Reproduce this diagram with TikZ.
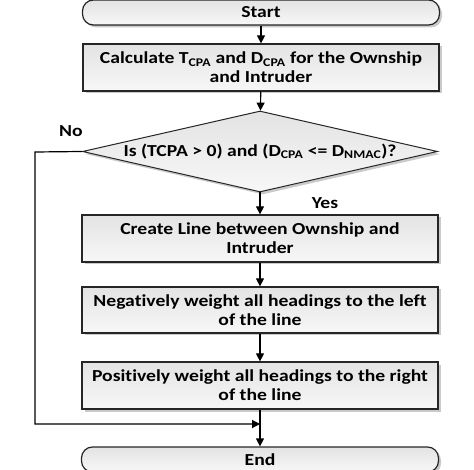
\documentclass[tikz,border=0pt]{standalone}
\usepackage{fontspec}
\setmainfont{Carlito}[FakeStretch=1.17, Ligatures=NoCommon, RawFeature={-liga;-clig;-dlig}]
\usetikzlibrary{arrows.meta,shapes.geometric,shadows}
\newcommand\lsub[1]{\textsubscript{#1}}
\begin{document}
\begin{tikzpicture}[x=1pt,y=-1pt,
  base/.style={draw=black!85, line width=1.2pt, top color=gray!22, bottom color=gray!6,
    font=\bfseries\fontsize{16.8}{19}\selectfont, align=center, inner sep=0pt,
    drop shadow={shadow xshift=2.5pt, shadow yshift=-2.5pt, fill=gray!70, opacity=0.6}},
  procbox/.style={base, rectangle, minimum width=356pt},
  termbox/.style={base, rectangle, rounded corners=11pt, minimum width=357pt, minimum height=25pt},
  decbox/.style={base, diamond, aspect=4.38, minimum width=355pt, minimum height=81pt, line width=1pt},
  lbl/.style={font=\bfseries\fontsize{16.8}{19}\selectfont, inner sep=0pt},
  flow/.style={line width=1.2pt, black, -{Triangle[width=8pt,length=8pt]}},
  plain/.style={line width=1.2pt, black}]
\useasboundingbox (0,0) rectangle (474,470);
\node[termbox] (start) at (261,12.5) {Start};
\node[procbox, minimum height=47pt] (calc) at (261,67.5) {Calculate T\lsub{CPA} and D\lsub{CPA} for the Ownship\\and Intruder};
\node[decbox] (dec) at (260,151.5) {Is (TCPA {>} 0) and (D\lsub{CPA} {<}= D\lsub{NMAC})?};
\node[procbox, minimum height=47pt] (create) at (260,238.5) {Create Line between Ownship and\\Intruder};
\node[procbox, minimum height=46pt] (neg) at (260,310) {Negatively weight all headings to the left\\of the line};
\node[procbox, minimum height=47pt] (pos) at (260,385.5) {Positively weight all headings to the right\\of the line};
\node[termbox] (end) at (260,459.5) {End};
\node[lbl] (no) at (71,131) {No};
\node[lbl] (yes) at (325,203) {Yes};
\coordinate (join) at (260,424);
\coordinate (corner) at (35,152);
\draw[flow] (start) -- (calc);
\draw[flow] (calc) -- (dec);
\draw[flow] (dec) -- (create);
\draw[flow] (create) -- (neg);
\draw[flow] (neg) -- (pos);
\draw[plain] (pos) -- (join);
\draw[flow] (join) -- (end);
\draw[flow] (dec.west) -- (corner) |- (join);
\end{tikzpicture}
\end{document}
